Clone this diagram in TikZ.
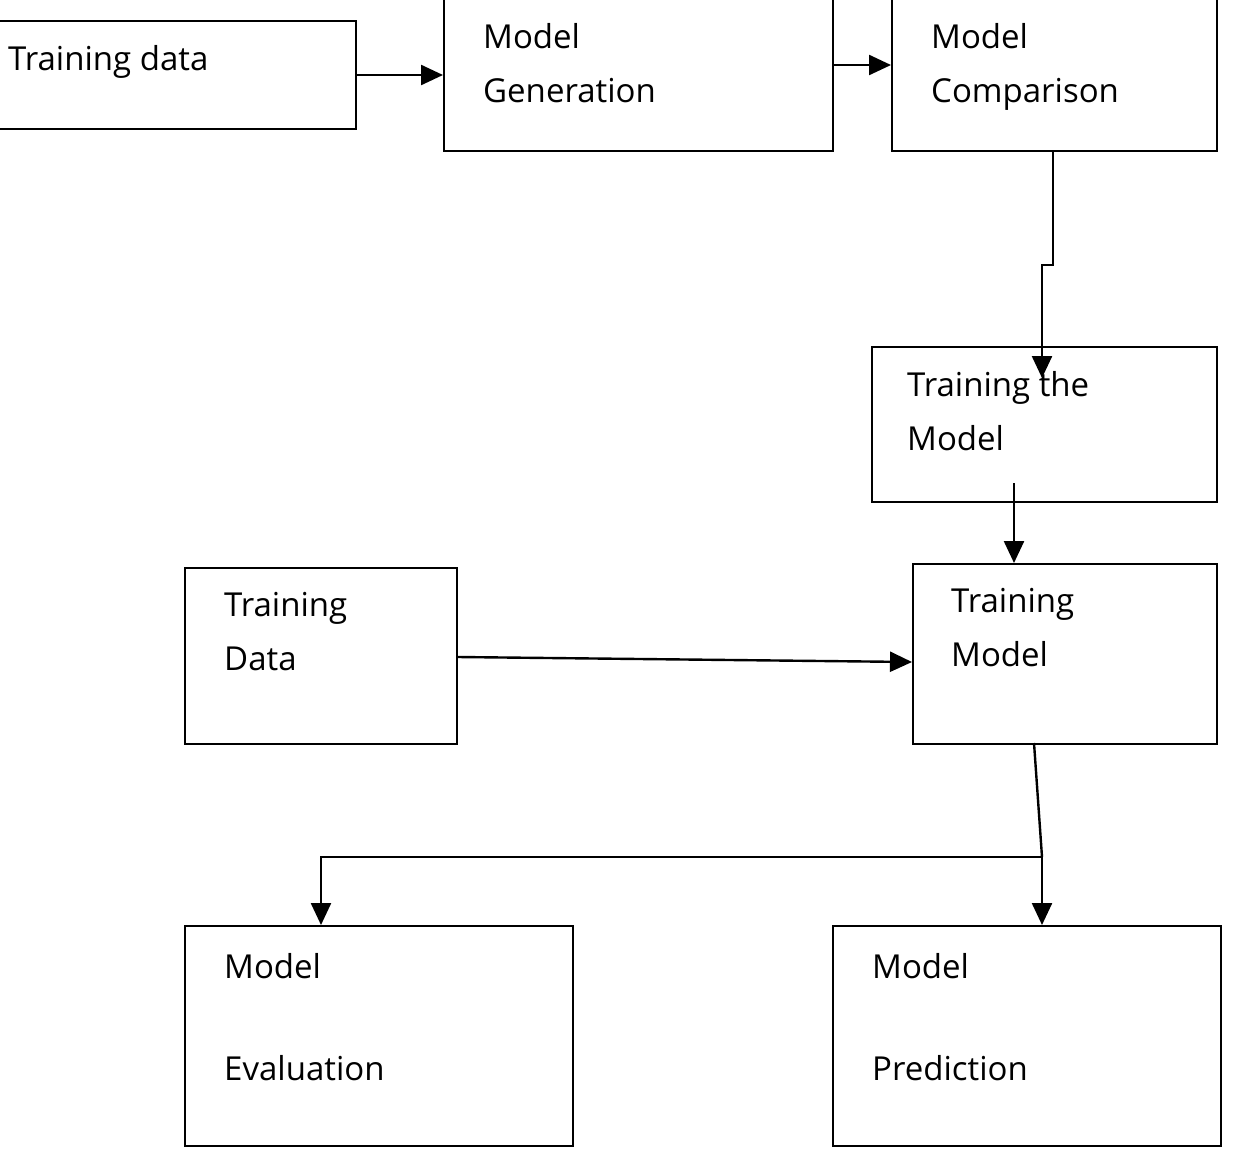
\documentclass[tikz,border=0pt]{standalone}
\usepackage{fontspec}
\setmainfont{Open Sans}
\usetikzlibrary{arrows.meta}
\begin{document}
\begin{tikzpicture}[x=1pt,y=-1pt,
 box/.style={draw,line width=2.2pt,anchor=north west,inner sep=0pt},
 txt/.style={anchor=north west,align=left,font=\fontsize{33}{54}\selectfont,inner sep=0pt},
 arr/.style={line width=2.4pt,-{Triangle[length=22pt,width=20pt]}}]
\useasboundingbox (0,0) rectangle (1244,1173);
\node[box,minimum width=360pt,minimum height=108pt] (a) at (-5,20) {};
\node[txt] at (8,45) {Training data};
\node[box,minimum width=389pt,minimum height=160pt] (b) at (443,-10) {};
\node[txt] at (483,23) {Model\\Generation};
\node[box,minimum width=325pt,minimum height=160pt] (c) at (891,-10) {};
\node[txt] at (931,23) {Model\\Comparison};
\node[box,minimum width=345pt,minimum height=155pt] (d) at (871,346) {};
\node[txt] at (907,371) {Training the\\Model};
\node[box,minimum width=272pt,minimum height=176pt] (e) at (184,567) {};
\node[txt] at (224,592) {Training\\Data};
\node[box,minimum width=304pt,minimum height=180pt] (f) at (912,563) {};
\node[txt] at (951,588) {Training\\Model};
\node[box,minimum width=388pt,minimum height=220pt] (g) at (184,925) {};
\node[txt,font=\fontsize{33}{102}\selectfont] at (224,953) {Model\\Evaluation};
\node[box,minimum width=388pt,minimum height=220pt] (h) at (832,925) {};
\node[txt,font=\fontsize{33}{102}\selectfont] at (872,953) {Model\\Prediction};
\coordinate (j) at (1042,857);
\draw[arr] (a.east|-0,75) -- (b.west|-0,75);
\draw[arr] (b.east|-0,65) -- (c.west|-0,65);
\draw[arr] (1053,150) -- (1053,265) -- (1042,265) -- (1042,378);
\draw[arr] (1014,483) -- (1014,563);
\draw[arr] (e.east|-0,657) -- (f.west|-0,662);
\draw[line width=2.4pt] (1034,743) -- (j);
\draw[arr] (j) -- (321,857) -- (321,925);
\draw[arr] (j) -- (1042,925);
\end{tikzpicture}
\end{document}
